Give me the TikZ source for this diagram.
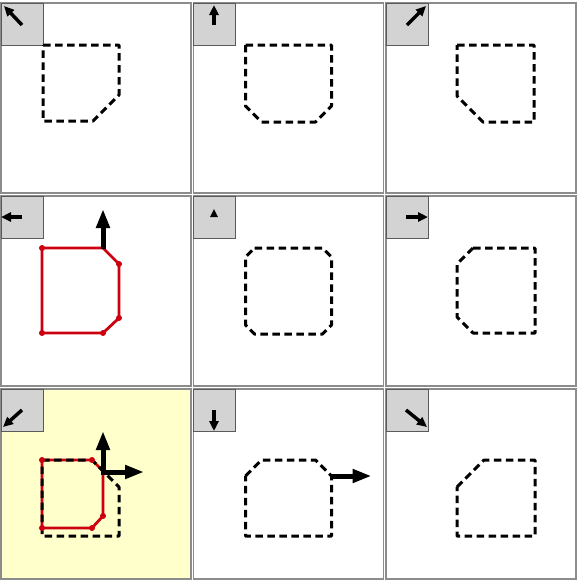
\documentclass[tikz,border=0pt]{standalone}
\usetikzlibrary{arrows.meta}
\definecolor{cellborder}{RGB}{140,140,140}
\definecolor{insetfill}{RGB}{211,211,211}
\definecolor{insetborder}{RGB}{90,90,90}
\definecolor{hl}{RGB}{255,255,204}
\definecolor{redline}{RGB}{204,0,16}
\tikzset{
 cellbox/.style={draw=cellborder, line width=1.8pt, fill=white},
 hlbox/.style={draw=cellborder, line width=1.8pt, fill=hl},
 inset/.style={draw=insetborder, line width=1pt, fill=insetfill},
 ghost/.style={draw=black, line width=3pt, dash pattern=on 7.5pt off 4.5pt, line join=round},
 redpath/.style={draw=redline, line width=2.8pt, line join=round},
 reddot/.style={fill=redline},
 bigarrow/.style={-{Triangle[width=13pt,length=19pt]}, line width=5pt},
 smallarrow/.style={-{Triangle[width=9pt,length=10pt]}, line width=3.5pt},
}
\begin{document}
\begin{tikzpicture}[x=1pt,y=-1pt]
\useasboundingbox (0,0) rectangle (578,582);

% ---------- row 1 ----------
\begin{scope}[shift={(1,3)}]
 \draw[cellbox] (0,0) rectangle (190,190);
 \draw[inset] (0,0) rectangle (42,42);
 \coordinate (a1s) at (21,22); \coordinate (a1e) at (3,3);
 \draw[smallarrow] (a1s) -- (a1e);
 \draw[ghost] (42,42) -- (118,42) -- (118,92) -- (92,118) -- (42,118) -- cycle;
\end{scope}
\begin{scope}[shift={(193.5,3)}]
 \draw[cellbox] (0,0) rectangle (190,190);
 \draw[inset] (0,0) rectangle (42,42);
 \coordinate (a2s) at (20.5,22); \coordinate (a2e) at (20.5,2);
 \draw[smallarrow] (a2s) -- (a2e);
 \draw[ghost] (52,42) -- (138,42) -- (138,103) -- (122,119) -- (68,119) -- (52,103) -- cycle;
\end{scope}
\begin{scope}[shift={(386,3)}]
 \draw[cellbox] (0,0) rectangle (190,190);
 \draw[inset] (0,0) rectangle (42,42);
 \coordinate (a3s) at (21,22); \coordinate (a3e) at (40,3);
 \draw[smallarrow] (a3s) -- (a3e);
 \draw[ghost] (71,42) -- (148,42) -- (148,119) -- (97,119) -- (71,93) -- cycle;
\end{scope}

% ---------- row 2 ----------
\begin{scope}[shift={(1,196)}]
 \draw[cellbox] (0,0) rectangle (190,190);
 \draw[inset] (0,0) rectangle (42,42);
 \coordinate (a4s) at (21,21); \coordinate (a4e) at (0,21);
 \draw[smallarrow] (a4s) -- (a4e);
 \draw[redpath] (41,52) -- (102,52) -- (118,68) -- (118,122) -- (102,137) -- (41,137) -- cycle;
 \foreach \p in {(41,52),(118,68),(118,122),(102,137),(41,137)}
   \fill[reddot] \p circle (3pt);
 \coordinate (b4s) at (102,53); \coordinate (b4e) at (102,13);
 \draw[bigarrow] (b4s) -- (b4e);
\end{scope}
\begin{scope}[shift={(193.5,196)}]
 \draw[cellbox] (0,0) rectangle (190,190);
 \draw[inset] (0,0) rectangle (42,42);
 \fill (16.5,21) -- (24.5,21) -- (20.5,13) -- cycle;
 \draw[ghost] (61,52) -- (129,52) -- (138,61) -- (138,129) -- (129,138) -- (61,138) -- (52,129) -- (52,61) -- cycle;
\end{scope}
\begin{scope}[shift={(386,196)}]
 \draw[cellbox] (0,0) rectangle (190,190);
 \draw[inset] (0,0) rectangle (42,42);
 \coordinate (a6s) at (20,21); \coordinate (a6e) at (42,21);
 \draw[smallarrow] (a6s) -- (a6e);
 \draw[ghost] (87,52) -- (149,52) -- (149,137) -- (87,137) -- (71,121) -- (71,68) -- cycle;
\end{scope}

% ---------- row 3 ----------
\begin{scope}[shift={(1,389)}]
 \draw[hlbox] (0,0) rectangle (190,190);
 \draw[inset] (0,0) rectangle (42,42);
 \coordinate (a7s) at (21,21); \coordinate (a7e) at (2,38);
 \draw[smallarrow] (a7s) -- (a7e);
 \draw[redpath] (41,71) -- (91,71) -- (102,82) -- (102,127) -- (91,139) -- (41,139) -- cycle;
 \draw[ghost] (41,71) -- (91,71) -- (118,98) -- (118,147) -- (41,147) -- cycle;
 \foreach \p in {(41,71),(91,71),(102,127),(91,139),(41,139)}
   \fill[reddot] \p circle (3pt);
 \coordinate (o7) at (102,83);
 \coordinate (u7) at (102,42);
 \coordinate (r7) at (143,83);
 \draw[bigarrow] (o7) -- (u7);
 \draw[bigarrow] ([xshift=-2.5pt]o7) -- (r7);
\end{scope}
\begin{scope}[shift={(193.5,389)}]
 \draw[cellbox] (0,0) rectangle (190,190);
 \draw[inset] (0,0) rectangle (42,42);
 \coordinate (a8s) at (20.5,21); \coordinate (a8e) at (20.5,42);
 \draw[smallarrow] (a8s) -- (a8e);
 \draw[ghost] (52,87) -- (68,71) -- (122,71) -- (138,87) -- (138,147) -- (52,147) -- cycle;
 \coordinate (b8s) at (138,87); \coordinate (b8e) at (178,87);
 \draw[bigarrow] (b8s) -- (b8e);
\end{scope}
\begin{scope}[shift={(386,389)}]
 \draw[cellbox] (0,0) rectangle (190,190);
 \draw[inset] (0,0) rectangle (42,42);
 \coordinate (a9s) at (20,21); \coordinate (a9e) at (41,38);
 \draw[smallarrow] (a9s) -- (a9e);
 \draw[ghost] (71,98) -- (98,71) -- (149,71) -- (149,147) -- (71,147) -- cycle;
\end{scope}
\end{tikzpicture}
\end{document}
